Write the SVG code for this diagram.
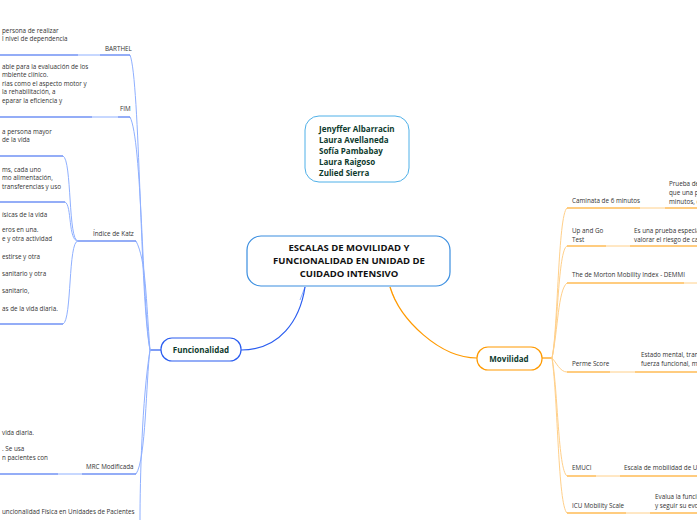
<svg xmlns="http://www.w3.org/2000/svg" width="697" height="520" viewBox="0 0 697 520">
<style>
text{font-family:"Open Sans","Noto Sans",sans-serif;fill:#333;font-size:6.3px}
.b{fill:none;stroke:#2a5df0;stroke-width:1.2}
.bl{fill:none;stroke:#8fb0ff;stroke-width:1}
.o{fill:none;stroke:#ff9a00;stroke-width:1.2}
.ol{fill:none;stroke:#ffd08a;stroke-width:1}
.t{font-weight:bold;fill:#0e3b2e}
</style>
<rect width="697" height="520" fill="#fff"/>
<g id="connectors">
<path class="bl" d="M305,287 L300,300"/>
<path class="ol" d="M390,287 L395,300"/>
<path class="b" d="M241,350 C280,350 300,320 305,287"/>
<path class="o" d="M477,358 C440,358 400,320 390,287"/>
<path class="b" d="M161,350 L150,350"/>
<path class="bl" d="M150,350 C140,300 140,80 130,55 M150,350 C142,300 142,140 130,117 M150,350 C146,300 146,260 136,241 M150,350 C146,380 146,460 136,474 M150,350 C142,400 140,480 140,520"/>
<path class="b" d="M0,55 H78 M100,55 H130 M0,117 H92 M118,117 H130 M90,241 H136 M0,474 H58 M82,474 H136"/>
<path class="bl" d="M78,55 H100 M92,117 H118 M58,474 H82"/>
<path class="bl" d="M78,241 C68,241 72,160 63,156 M78,241 C68,241 72,205 65,202 M78,241 C68,241 72,320 63,324"/>
<path class="b" d="M0,156 H63 M0,202 H65 M0,324 H63 M78,241 H90"/>
<path class="o" d="M542,358 L552,358"/>
<path class="ol" d="M552,358 C558,330 558,215 567,208 M552,358 C558,330 558,250 567,246 M552,358 C558,330 558,290 567,283 M552,358 C556,362 560,372 567,372 M552,358 C558,390 558,470 567,476 M552,358 C558,400 558,505 567,513"/>
<path class="o" d="M567,208 H640 M665,208 H697 M567,246 H606 M630,246 H697 M567,283 H684 M567,372 H610 M635,372 H697 M567,476 H596 M620,476 H697 M567,513 H626 M650,513 H697"/>
<path class="ol" d="M640,208 H665 M606,246 H630 M684,283 H697 M610,372 H635 M596,476 H620 M626,513 H650"/>
</g>
<g id="center">
<rect x="247" y="236" width="203" height="50" rx="14" fill="#fff" stroke="#3a8ee0" stroke-width="1.2"/>
<text x="349" y="251" text-anchor="middle" class="t" style="fill:#111;font-size:9.5px">ESCALAS DE MOVILIDAD Y</text>
<text x="349" y="264" text-anchor="middle" class="t" style="fill:#111;font-size:9.5px">FUNCIONALIDAD EN UNIDAD DE</text>
<text x="349" y="277" text-anchor="middle" class="t" style="fill:#111;font-size:9.5px">CUIDADO INTENSIVO</text>
</g>
<g id="authors">
<rect x="305" y="116" width="104" height="66" rx="14" fill="#fff" stroke="#4fb0e8" stroke-width="1"/>
<text x="319" y="132" class="t" style="font-size:8px">Jenyffer Albarracin</text>
<text x="319" y="143" class="t" style="font-size:8px">Laura Avellaneda</text>
<text x="319" y="154" class="t" style="font-size:8px">Sofía Pambabay</text>
<text x="319" y="165" class="t" style="font-size:8px">Laura Raigoso</text>
<text x="319" y="176" class="t" style="font-size:8px">Zulied Sierra</text>
</g>
<g id="funcionalidad">
<rect x="161" y="338" width="80" height="23" rx="11" fill="#fff" stroke="#2a5df0" stroke-width="1.2"/>
<text x="201" y="353" text-anchor="middle" class="t" style="font-size:8px">Funcionalidad</text>
</g>
<g id="movilidad">
<rect x="477" y="347" width="65" height="23" rx="11" fill="#fff" stroke="#ff9a00" stroke-width="1.2"/>
<text x="509" y="362" text-anchor="middle" class="t" style="font-size:8px">Movilidad</text>
</g>
<g id="left-texts">
<text x="2" y="33">persona de realizar</text>
<text x="2" y="41">l nivel de dependencia</text>
<text x="105" y="51">BARTHEL</text>
<text x="2" y="69">able para la evaluación de los</text>
<text x="2" y="77">mbiente clínico.</text>
<text x="2" y="86">rias como el aspecto motor y</text>
<text x="2" y="94">la rehabilitación, a</text>
<text x="2" y="103">eparar la eficiencia y</text>
<text x="120" y="111">FIM</text>
<text x="2" y="134">a persona mayor</text>
<text x="2" y="142">de la vida</text>
<text x="2" y="172">ms, cada uno</text>
<text x="2" y="180">mo alimentación,</text>
<text x="2" y="189">transferencias y uso</text>
<text x="93" y="236">Índice de Katz</text>
<text x="2" y="217">ísicas de la vida</text>
<text x="2" y="232">eros en una.</text>
<text x="2" y="241">e y otra actividad</text>
<text x="2" y="259">estirse y otra</text>
<text x="2" y="276">sanitario y otra</text>
<text x="2" y="293">sanitario,</text>
<text x="2" y="311">as de la vida diaria.</text>
<text x="2" y="435">vida diaria.</text>
<text x="2" y="451">. Se usa</text>
<text x="2" y="460">n pacientes con</text>
<text x="86" y="469">MRC Modificada</text>
<text x="2" y="514">uncionalidad Física en Unidades de Pacientes</text>
</g>
<g id="right-texts">
<text x="572" y="203">Caminata de 6 minutos</text>
<text x="669" y="186">Prueba de</text>
<text x="669" y="195">que una p</text>
<text x="669" y="204">minutos, c</text>
<text x="572" y="233">Up and Go</text>
<text x="572" y="242">Test</text>
<text x="634" y="233">Es una prueba especia</text>
<text x="634" y="242">valorar el riesgo de ca</text>
<text x="572" y="277">The de Morton Mobility Index - DEMMI</text>
<text x="641" y="357">Estado mental, trans</text>
<text x="641" y="366">fuerza funcional, ma</text>
<text x="572" y="366">Perme Score</text>
<text x="572" y="470">EMUCI</text>
<text x="624" y="470">Escala de mobilidad de UC</text>
<text x="655" y="499">Evalua la funció</text>
<text x="655" y="508">y seguir su evo</text>
<text x="572" y="508">ICU Mobility Scale</text>
</g>
</svg>
